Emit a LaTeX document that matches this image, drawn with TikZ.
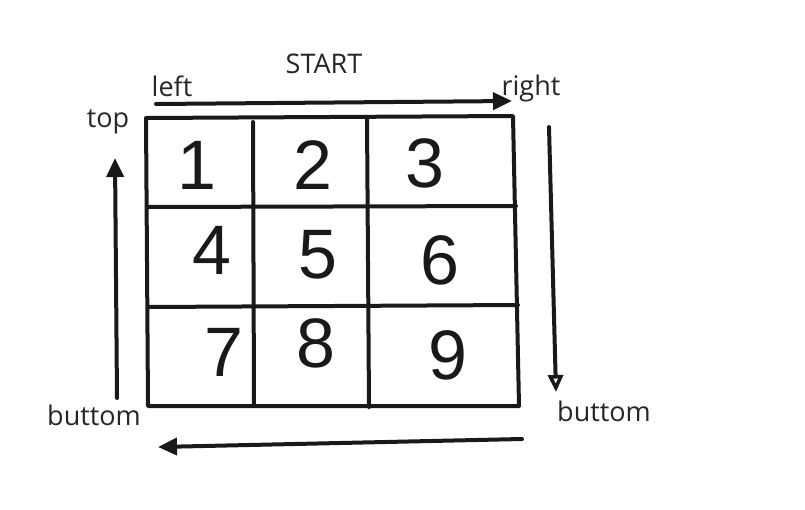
\documentclass[tikz,border=0pt]{standalone}
\usepackage{fontspec}
\setmainfont{Liberation Sans}
\newfontfamily\lblfont{Open Sans}
\usetikzlibrary{arrows.meta}
\tikzset{
  pen/.style={line width=4pt, line cap=round, line join=round, draw=black!90},
  arr/.style={pen, -{Triangle[length=19pt,width=17pt]}},
  arro/.style={pen, -{Triangle[open,length=17pt,width=15pt,line width=3.5pt]}},
  lbl/.style={font=\lblfont\fontsize{27}{30}\selectfont, text=black!85, inner sep=0pt},
  digit/.style={font=\fontsize{70}{74}\selectfont, text=black!90, inner sep=0pt}
}
\begin{document}
\begin{tikzpicture}[x=1pt,y=-1pt]
\useasboundingbox[fill=white] (0,0) rectangle (805,509);
% grid corners
\coordinate (tl) at (146,118);
\coordinate (tr) at (513,116);
\coordinate (br) at (519,406);
\coordinate (bl) at (148,406);
\draw[pen] (tl) -- (tr) -- (br) -- (bl) -- cycle;
\coordinate (v1t) at (253,122); \coordinate (v1b) at (254,405);
\coordinate (v2t) at (367,118); \coordinate (v2b) at (369,407);
\coordinate (h1l) at (147,207); \coordinate (h1r) at (516,206);
\coordinate (h2l) at (148,307); \coordinate (h2r) at (518,305);
\draw[pen] (v1t) -- (v1b);
\draw[pen] (v2t) -- (v2b);
\draw[pen] (h1l) -- (h1r);
\draw[pen] (h2l) -- (h2r);
% digits
\node[digit] (d1) at (197,165) {1};
\node[digit] (d2) at (313,165) {2};
\node[digit] (d3) at (425,163) {3};
\node[digit] (d4) at (212,250) {4};
\node[digit] (d5) at (318,255) {5};
\node[digit] (d6) at (440,260) {6};
\node[digit] (d7) at (224,352) {7};
\node[digit] (d8) at (316,343) {8};
\node[digit] (d9) at (448,355) {9};
% labels
\node[lbl] (start) at (324,64) {START};
\node[lbl] (left) at (172,86) {left};
\node[lbl] (right) at (531,88) {right};
\node[lbl] (top) at (108,122) {top};
\node[lbl] (bl1) at (94,415) {buttom};
\node[lbl] (bl2) at (604,411) {buttom};
% arrows
\coordinate (a1s) at (156,104); \coordinate (a1e) at (512,101);
\coordinate (a2s) at (549,127); \coordinate (a2e) at (556,392);
\coordinate (a3s) at (522,439); \coordinate (a3e) at (158,447);
\coordinate (a4s) at (117,398); \coordinate (a4e) at (115,158);
\draw[arr] (a1s) -- (a1e);
\draw[arro] (a2s) -- (a2e);
\draw[arr] (a3s) -- (a3e);
\draw[arr] (a4s) -- (a4e);
\end{tikzpicture}
\end{document}
